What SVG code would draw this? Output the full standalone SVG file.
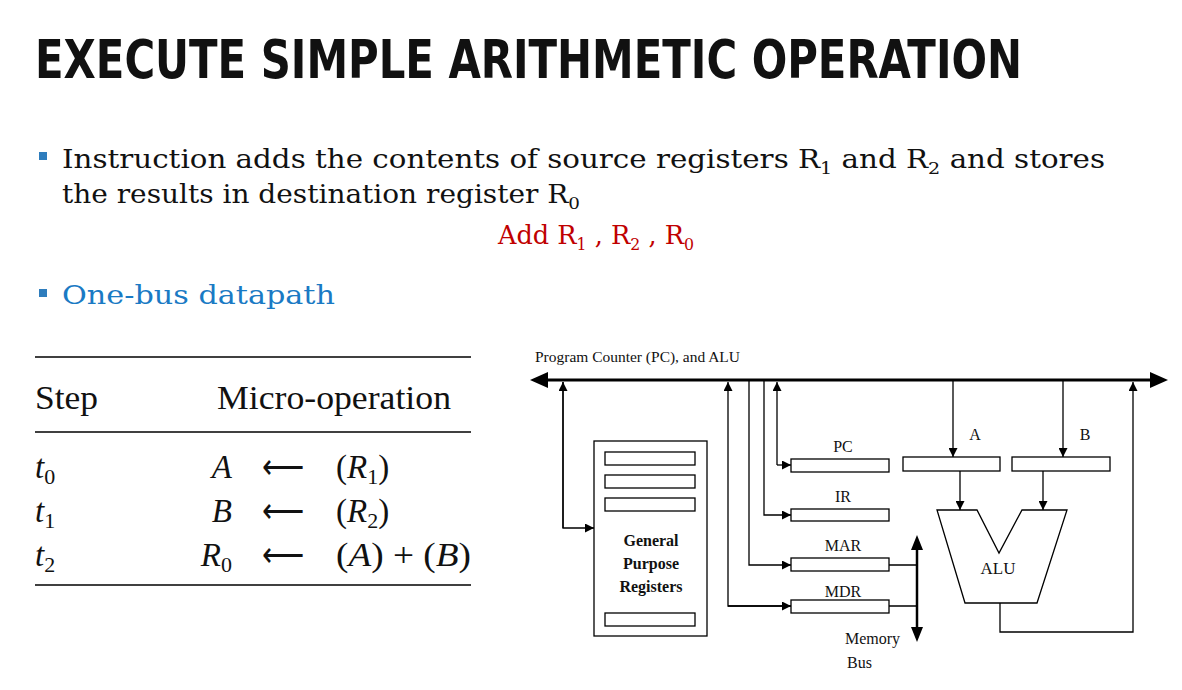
<svg xmlns="http://www.w3.org/2000/svg" width="1182" height="690" viewBox="0 0 1182 690">
<style>
.t{font-family:"DejaVu Serif","Liberation Serif",serif;font-size:26px;fill:#111}
.d{font-family:"Liberation Serif",serif;fill:#111}
.ln{stroke:#000;stroke-width:1.3;fill:none}
.reg{fill:#fff;stroke:#000;stroke-width:1.3}
.tb{font-family:"Liberation Serif",serif;font-size:33px;fill:#111}
</style>
<defs>
<marker id="ar" viewBox="0 0 10 10" refX="10" refY="5" markerWidth="9" markerHeight="9" markerUnits="userSpaceOnUse" orient="auto"><path d="M0,0 L10,5 L0,10z" fill="#000"/></marker>
</defs>
<rect width="1182" height="690" fill="#fff"/>
<g id="title"><text x="35" y="78" font-family="DejaVu Sans Condensed,sans-serif" font-weight="bold" font-size="54" textLength="987" lengthAdjust="spacingAndGlyphs" fill="#111">EXECUTE SIMPLE ARITHMETIC OPERATION</text></g>
<g id="bullets">
<rect x="39" y="152" width="8" height="8" fill="#2e7dbd"/>
<text class="t" x="62" y="168" textLength="1043" lengthAdjust="spacingAndGlyphs">Instruction adds the contents of source registers R<tspan font-size="17" dy="6">1</tspan><tspan dy="-6"> and R</tspan><tspan font-size="17" dy="6">2</tspan><tspan dy="-6"> and stores</tspan></text>
<text class="t" x="62" y="203" textLength="518" lengthAdjust="spacingAndGlyphs">the results in destination register R<tspan font-size="17" dy="6">0</tspan></text>
<text class="t" x="498" y="244" style="fill:#c00000" font-size="24" textLength="196" lengthAdjust="spacingAndGlyphs">Add R<tspan font-size="16" dy="6">1</tspan><tspan dy="-6"> , R</tspan><tspan font-size="16" dy="6">2</tspan><tspan dy="-6"> , R</tspan><tspan font-size="16" dy="6">0</tspan></text>
<rect x="39" y="289" width="8" height="8" fill="#2e7dbd"/>
<text class="t" x="62" y="304" style="fill:#1a7ac4" textLength="273" lengthAdjust="spacingAndGlyphs">One-bus datapath</text>
</g>
<g id="table">
<line x1="35" y1="357" x2="471" y2="357" stroke="#000" stroke-width="1.5"/>
<line x1="35" y1="432" x2="471" y2="432" stroke="#000" stroke-width="1.5"/>
<line x1="35" y1="585" x2="471" y2="585" stroke="#000" stroke-width="1.5"/>
<text class="tb" x="35" y="409" textLength="63" lengthAdjust="spacingAndGlyphs">Step</text>
<text class="tb" x="217" y="409" textLength="234" lengthAdjust="spacingAndGlyphs">Micro-operation</text>
<text class="tb" x="35" y="478" font-style="italic">t<tspan font-style="normal" font-size="22" dy="6">0</tspan></text>
<text class="tb" x="35" y="522" font-style="italic">t<tspan font-style="normal" font-size="22" dy="6">1</tspan></text>
<text class="tb" x="35" y="566" font-style="italic">t<tspan font-style="normal" font-size="22" dy="6">2</tspan></text>
<text class="tb" x="232" y="478" text-anchor="end" font-style="italic">A</text>
<text class="tb" x="232" y="522" text-anchor="end" font-style="italic">B</text>
<text class="tb" x="232" y="566" text-anchor="end" font-style="italic">R<tspan font-style="normal" font-size="22" dy="6">0</tspan></text>
<text class="tb" x="262" y="478" textLength="42" lengthAdjust="spacingAndGlyphs">⟵</text><text class="tb" x="262" y="522" textLength="42" lengthAdjust="spacingAndGlyphs">⟵</text><text class="tb" x="262" y="566" textLength="42" lengthAdjust="spacingAndGlyphs">⟵</text>
<text class="tb" x="336" y="478">(<tspan font-style="italic">R</tspan><tspan font-size="22" dy="6">1</tspan><tspan dy="-6">)</tspan></text>
<text class="tb" x="336" y="522">(<tspan font-style="italic">R</tspan><tspan font-size="22" dy="6">2</tspan><tspan dy="-6">)</tspan></text>
<text class="tb" x="336" y="566" textLength="135" lengthAdjust="spacingAndGlyphs">(<tspan font-style="italic">A</tspan>) + (<tspan font-style="italic">B</tspan>)</text>
</g>
<g id="labels">
<text class="d" x="535" y="362" font-size="15" textLength="205" lengthAdjust="spacingAndGlyphs">Program Counter (PC), and ALU</text>
</g>
<g id="connectors">
<line x1="548" y1="380" x2="1152" y2="380" stroke="#000" stroke-width="3"/>
<path d="M530,380 l18,-8 v16z M1168,380 l-18,-8 v16z" fill="#000"/>
<path class="ln" d="M563,382 V528 H594" marker-end="url(#ar)"/>
<path class="ln" d="M563,528 V382" marker-end="url(#ar)"/>
<path class="ln" d="M791,606 H728 V382" marker-end="url(#ar)"/>
<path class="ln" d="M728,606 H791" marker-end="url(#ar)"/>
<path class="ln" d="M749,380 V565 H791" marker-end="url(#ar)"/>
<path class="ln" d="M764,380 V515 H791" marker-end="url(#ar)"/>
<path class="ln" d="M777,465 V382" marker-end="url(#ar)"/>
<path class="ln" d="M777,465 H791" marker-end="url(#ar)"/>
<path class="ln" d="M953,380 V457" marker-end="url(#ar)"/>
<path class="ln" d="M1063,380 V457" marker-end="url(#ar)"/>
<path class="ln" d="M960,471 V510" marker-end="url(#ar)"/>
<path class="ln" d="M1043,471 V510" marker-end="url(#ar)"/>
<path class="ln" d="M1000,603 V632 H1133 V382" marker-end="url(#ar)"/>
<path class="ln" d="M889,565 H917 M889,606 H917"/>
<line x1="917" y1="545" x2="917" y2="630" stroke="#000" stroke-width="2.5"/>
<path d="M917,535 l-6,15 h12z M917,642 l-6,-15 h12z" fill="#000"/>
</g>
<g id="gpr">
<rect class="reg" x="594" y="441" width="113" height="195"/>
<rect class="reg" x="605" y="452" width="90" height="13"/>
<rect class="reg" x="605" y="475" width="90" height="13"/>
<rect class="reg" x="605" y="498" width="90" height="13"/>
<rect class="reg" x="605" y="613" width="90" height="13"/>
<text class="d" x="651" y="546" font-size="16" font-weight="bold" text-anchor="middle">General</text>
<text class="d" x="651" y="569" font-size="16" font-weight="bold" text-anchor="middle">Purpose</text>
<text class="d" x="651" y="592" font-size="16" font-weight="bold" text-anchor="middle">Registers</text>
</g>
<g id="pc"><rect class="reg" x="791" y="459" width="98" height="13"/><text class="d" x="843" y="452" font-size="16" text-anchor="middle">PC</text></g>
<g id="ir"><rect class="reg" x="791" y="509" width="98" height="12"/><text class="d" x="843" y="502" font-size="16" text-anchor="middle">IR</text></g>
<g id="mar"><rect class="reg" x="791" y="558" width="98" height="13"/><text class="d" x="843" y="551" font-size="16" text-anchor="middle">MAR</text></g>
<g id="mdr"><rect class="reg" x="791" y="600" width="98" height="13"/><text class="d" x="843" y="597" font-size="16" text-anchor="middle">MDR</text></g>
<g id="regA"><rect class="reg" x="903" y="457" width="97" height="14"/><text class="d" x="975" y="440" font-size="16" text-anchor="middle">A</text></g>
<g id="regB"><rect class="reg" x="1012" y="457" width="98" height="14"/><text class="d" x="1085" y="440" font-size="16" text-anchor="middle">B</text></g>
<g id="alu"><path class="reg" d="M937,510 H977 L999,553 L1022,510 H1067 L1037,603 H965 Z"/><text class="d" x="998" y="574" font-size="17" text-anchor="middle">ALU</text></g>
<g id="membus"><text class="d" x="845" y="644" font-size="16">Memory</text><text class="d" x="847" y="668" font-size="16">Bus</text></g>
</svg>
